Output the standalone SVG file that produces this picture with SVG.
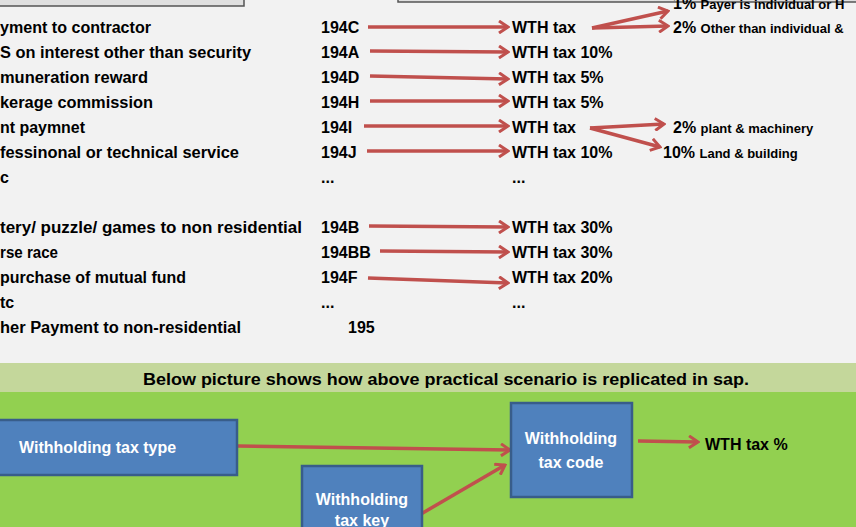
<svg xmlns="http://www.w3.org/2000/svg" width="856" height="527" viewBox="0 0 856 527">
<defs>
<marker id="ah" markerWidth="12" markerHeight="14" refX="10" refY="7" orient="auto" markerUnits="userSpaceOnUse" viewBox="0 0 12 14"><path d="M1,1 L10,7 L1,13" fill="none" stroke="#c0504d" stroke-width="3"/></marker>
<style>
text{font-family:"Liberation Sans",Arial,sans-serif;font-weight:bold;font-size:16px;fill:#000}
.s{font-size:13px}
.w{fill:#fff;font-size:16px}
.a{stroke:#c0504d;stroke-width:3.5;fill:none;marker-end:url(#ah)}
.n{fill:#4f81bd;stroke:#385d8a;stroke-width:2.5}
</style>
</defs>
<rect width="856" height="527" fill="#f2f2f2"/>
<rect x="-5" y="-10" width="249" height="16" fill="#e0e0e0" stroke="#555" stroke-width="1.5"/>
<rect x="398" y="-10" width="460" height="12" fill="#e0e0e0" stroke="#555" stroke-width="1.5"/>
<rect x="0" y="363" width="856" height="29" fill="#c4d79b"/>
<rect x="0" y="392" width="856" height="135" fill="#92d050"/>
<g id="labels">
<text x="0" y="33" textLength="151" lengthAdjust="spacingAndGlyphs">yment to contractor</text>
<text x="0" y="58" textLength="251" lengthAdjust="spacingAndGlyphs">S on interest other than security</text>
<text x="0" y="83" textLength="148" lengthAdjust="spacingAndGlyphs">muneration reward</text>
<text x="0" y="108" textLength="153" lengthAdjust="spacingAndGlyphs">kerage commission</text>
<text x="0" y="133" textLength="85" lengthAdjust="spacingAndGlyphs">nt paymnet</text>
<text x="0" y="158" textLength="239" lengthAdjust="spacingAndGlyphs">fessinonal or technical service</text>
<text x="0" y="183">c</text>
<text x="0" y="233" textLength="302" lengthAdjust="spacingAndGlyphs">tery/ puzzle/ games to non residential</text>
<text x="0" y="258" textLength="58" lengthAdjust="spacingAndGlyphs">rse race</text>
<text x="0" y="283" textLength="186" lengthAdjust="spacingAndGlyphs">purchase of mutual fund</text>
<text x="0" y="308">tc</text>
<text x="0" y="333" textLength="241" lengthAdjust="spacingAndGlyphs">her Payment to non-residential</text>
<text x="321" y="33">194C</text><text x="321" y="58">194A</text><text x="321" y="83">194D</text>
<text x="321" y="108">194H</text><text x="321" y="133">194I</text><text x="321" y="158">194J</text>
<text x="321" y="183">...</text><text x="321" y="233">194B</text><text x="321" y="258">194BB</text>
<text x="321" y="283">194F</text><text x="321" y="308">...</text><text x="348" y="333">195</text>
<text x="512" y="33">WTH tax</text><text x="512" y="58">WTH tax 10%</text><text x="512" y="83">WTH tax 5%</text>
<text x="512" y="108">WTH tax 5%</text><text x="512" y="133">WTH tax</text><text x="512" y="158">WTH tax 10%</text>
<text x="512" y="183">...</text><text x="512" y="233">WTH tax 30%</text><text x="512" y="258">WTH tax 30%</text>
<text x="512" y="283">WTH tax 20%</text><text x="512" y="308">...</text>
<text x="673" y="9">1% <tspan class="s">Payer is individual or H</tspan></text>
<text x="673" y="33">2% <tspan class="s">Other than individual &amp;</tspan></text>
<text x="673" y="133">2% <tspan class="s">plant &amp; machinery</tspan></text>
<text x="663" y="158">10% <tspan class="s">Land &amp; building</tspan></text>
<text x="446" y="385" text-anchor="middle" textLength="606" lengthAdjust="spacingAndGlyphs">Below picture shows how above practical scenario is replicated in sap.</text>
<text x="705" y="450">WTH tax %</text>
</g>
<g id="connectors">
<line class="a" x1="368" y1="27" x2="508" y2="27"/>
<line class="a" x1="370" y1="51" x2="508" y2="52"/>
<line class="a" x1="370" y1="76" x2="508" y2="79"/>
<line class="a" x1="370" y1="101" x2="508" y2="101"/>
<line class="a" x1="364" y1="126" x2="508" y2="126"/>
<line class="a" x1="367" y1="151" x2="508" y2="151"/>
<line class="a" x1="369" y1="226" x2="508" y2="227"/>
<line class="a" x1="380" y1="251" x2="508" y2="252"/>
<line class="a" x1="368" y1="278" x2="508" y2="283"/>
<line class="a" x1="592" y1="28" x2="668" y2="11"/>
<line class="a" x1="592" y1="28" x2="668" y2="26"/>
<line class="a" x1="590" y1="128" x2="664" y2="124"/>
<line class="a" x1="590" y1="128" x2="660" y2="147"/>
<line class="a" x1="237" y1="446" x2="510" y2="450"/>
<line class="a" x1="421" y1="514" x2="505" y2="465"/>
<line class="a" x1="638" y1="441" x2="698" y2="442"/>
</g>
<g id="n1"><rect class="n" x="-5" y="420" width="242" height="55"/><text class="w" x="19" y="453">Withholding  tax type</text></g>
<g id="n2"><rect class="n" x="302" y="466" width="120" height="70"/><text class="w" x="362" y="505" text-anchor="middle">Withholding</text><text class="w" x="362" y="526" text-anchor="middle">tax key</text></g>
<g id="n3"><rect class="n" x="511" y="403" width="121" height="94"/><text class="w" x="571" y="444" text-anchor="middle">Withholding</text><text class="w" x="571" y="468" text-anchor="middle">tax code</text></g>
</svg>
